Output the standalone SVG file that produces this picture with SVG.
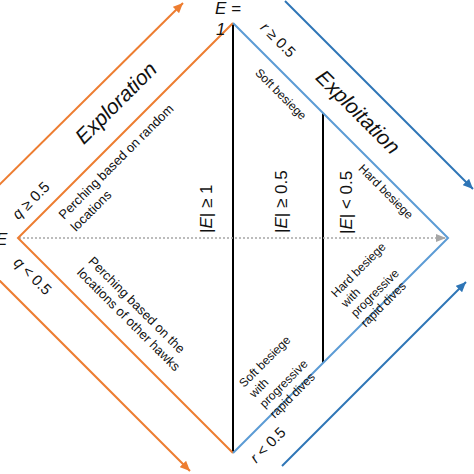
<svg xmlns="http://www.w3.org/2000/svg" width="474" height="474" viewBox="0 0 474 474">
<style>
text{font-family:"Liberation Sans",Arial,sans-serif;fill:#111}
.big{font-size:21px;font-style:italic}
.cond{font-size:15px}
.lab{font-size:13px}
.sm{font-size:12px}
.abs{font-size:17px}
.it{font-style:italic}
.or{stroke:#ED7D31;stroke-width:2;fill:none}
.bl{stroke:#2E75B6;stroke-width:2;fill:none}
.lb{stroke:#5B9BD5;stroke-width:2;fill:none}
.bk{stroke:#000;stroke-width:2;fill:none}
</style>
<defs>
<marker id="aO" markerUnits="userSpaceOnUse" markerWidth="11" markerHeight="9" refX="10" refY="4.5" orient="auto"><path d="M0,0 L10,4.5 L0,9 z" fill="#ED7D31"/></marker>
<marker id="aB" markerUnits="userSpaceOnUse" markerWidth="11" markerHeight="9" refX="10" refY="4.5" orient="auto"><path d="M0,0 L10,4.5 L0,9 z" fill="#2E75B6"/></marker>
<marker id="aG" markerUnits="userSpaceOnUse" markerWidth="11" markerHeight="8" refX="10" refY="4" orient="auto"><path d="M0,0 L10,4 L0,8 z" fill="#A6A6A6"/></marker>
</defs>
<rect width="474" height="474" fill="#fff"/>
<g id="connectors">
<line class="bk" x1="233" y1="23" x2="233" y2="453"/>
<line class="bk" x1="323" y1="113" x2="323" y2="363"/>
<line x1="19" y1="238" x2="446" y2="238" stroke="#A6A6A6" stroke-width="1.5" stroke-dasharray="2,2" marker-end="url(#aG)"/>
<polyline class="or" points="233,23 18,238 233,453"/>
<polyline class="lb" points="233,23 448,238 233,453"/>
<line class="or" x1="-6" y1="190" x2="183" y2="3" marker-end="url(#aO)"/>
<line class="or" x1="-4" y1="277" x2="190" y2="471" marker-end="url(#aO)"/>
<line class="bl" x1="285" y1="1" x2="473" y2="189" marker-end="url(#aB)"/>
<line class="bl" x1="282" y1="466" x2="466" y2="282" marker-end="url(#aB)"/>
</g>
<g id="energy-labels">
<text class="abs it" x="215" y="13.5" font-size="16">E =</text>
<text class="abs it" x="216" y="35" font-size="16">1</text>
<text class="abs it" x="-4" y="245">E</text>
</g>
<g id="exploration">
<text class="big" text-anchor="middle" transform="translate(121,108) rotate(-45)">Exploration</text>
<text class="cond" text-anchor="middle" transform="translate(34.5,204) rotate(-45)"><tspan class="it">q</tspan> ≥ 0.5</text>
<text class="cond" text-anchor="middle" transform="translate(29,279.5) rotate(45)"><tspan class="it">q</tspan> &lt; 0.5</text>
<text class="lab" transform="translate(64,220) rotate(-45)"><tspan x="0" y="0">Perching based on random</tspan><tspan x="0" y="17">locations</tspan></text>
<text class="lab" transform="translate(87.5,262) rotate(45)"><tspan x="0" y="0">Perching based on the</tspan><tspan x="0" y="16">locations of other hawks</tspan></text>
</g>
<g id="regions">
<text class="abs" transform="translate(212,233) rotate(-90)">|<tspan class="it">E</tspan>| ≥ 1</text>
<text class="abs" transform="translate(287,233) rotate(-90)">|<tspan class="it">E</tspan>| ≥ 0.5</text>
<text class="abs" transform="translate(352,234) rotate(-90)">|<tspan class="it">E</tspan>| &lt; 0.5</text>
</g>
<g id="exploitation">
<text class="big" text-anchor="middle" transform="translate(353,117) rotate(45)">Exploitation</text>
<text class="cond" text-anchor="middle" transform="translate(274.5,43.5) rotate(45)"><tspan class="it">r</tspan> ≥ 0.5</text>
<text class="cond" text-anchor="middle" transform="translate(271.5,448.5) rotate(-45)"><tspan class="it">r</tspan> &lt; 0.5</text>
<text class="sm" text-anchor="middle" transform="translate(278,97) rotate(45)">Soft besiege</text>
<text class="sm" text-anchor="middle" transform="translate(383,194.5) rotate(45)">Hard besiege</text>
<text class="sm" transform="translate(336,298) rotate(-45)"><tspan x="0" y="0">Hard besiege</tspan><tspan x="0" y="14">with</tspan><tspan x="0" y="28">progressive</tspan><tspan x="0" y="42">rapid dives</tspan></text>
<text class="sm" transform="translate(244,388) rotate(-45)"><tspan x="0" y="0">Soft besiege</tspan><tspan x="0" y="14.5">with</tspan><tspan x="0" y="29">progressive</tspan><tspan x="0" y="43.5">rapid dives</tspan></text>
</g>
</svg>
